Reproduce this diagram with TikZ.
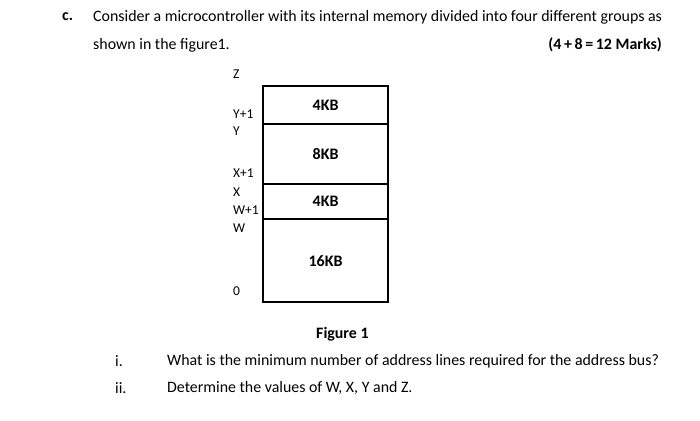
\documentclass[tikz,border=0pt]{standalone}
\usepackage{fontspec}
\setmainfont{Carlito}
\begin{document}
\begin{tikzpicture}[x=1pt,y=-1pt,
  txt/.style={anchor=west,inner sep=0pt,font=\fontsize{15.9}{18}\selectfont},
  lab/.style={anchor=west,inner sep=0pt,font=\fontsize{13.5}{15}\selectfont},
  blk/.style={draw,line width=2.2pt,minimum width=125pt,inner sep=0pt,font=\fontsize{16}{18}\selectfont\bfseries}]
\useasboundingbox (0,0) rectangle (700,420);
\node[txt,font=\fontsize{15.9}{18}\selectfont\bfseries] (c) at (62,17) {c.};
\node[txt] (t1) at (93,17) {Consider a microcontroller with its internal memory divided into four different groups as};
\node[txt] (t2) at (93,45) {shown in the figure1.};
\node[txt,anchor=east,font=\fontsize{15.9}{18}\selectfont\bfseries] (mk) at (662,45) {(4\,+\,8\,=\,12 Marks)};
\node[blk,minimum height=38pt,anchor=north west] (b1) at (262,85) {4KB};
\node[blk,minimum height=60pt,anchor=north west] (b2) at (262,123) {8KB};
\node[blk,minimum height=35pt,anchor=north west] (b3) at (262,183) {4KB};
\node[blk,minimum height=83pt,anchor=north west] (b4) at (262,218) {16KB};
\node[lab] (z) at (233,74) {Z};
\node[lab] (y1) at (233,114) {Y+1};
\node[lab] (y) at (233,131) {Y};
\node[lab] (x1) at (233,173) {X+1};
\node[lab] (x) at (233,192) {X};
\node[lab] (w1) at (233,210) {W+1};
\node[lab] (w) at (233,228) {W};
\node[lab] (o) at (233,291) {0};
\node[txt,font=\fontsize{15.9}{18}\selectfont\bfseries] (f) at (316,334) {Figure 1};
\node[txt] (i) at (115,361) {i.};
\node[txt] (q1) at (167,361) {What is the minimum number of address lines required for the address bus?};
\node[txt] (ii) at (115,388) {ii.};
\node[txt] (q2) at (167,388) {Determine the values of W, X, Y and Z.};
\end{tikzpicture}
\end{document}
